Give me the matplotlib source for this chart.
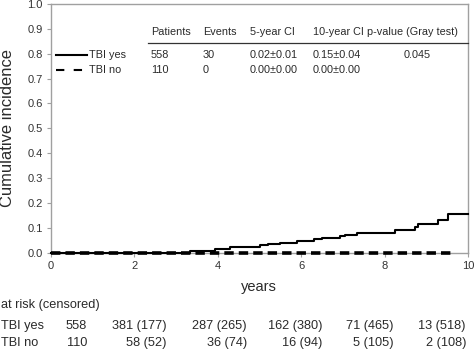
import matplotlib
matplotlib.use('Agg')
import matplotlib.pyplot as plt
from matplotlib.lines import Line2D

plt.rcParams['font.family'] = ['Liberation Sans', 'DejaVu Sans']

# 데이터
years_yes = [0, 3.33, 3.93, 4.3, 5.0, 5.2, 5.5, 5.9, 6.3, 6.5, 6.93, 7.05, 7.34, 8.25, 8.73, 8.8, 9.28, 9.52, 10.0]
ci_yes = [0, 0.007, 0.014, 0.023, 0.031, 0.034, 0.040, 0.047, 0.054, 0.060, 0.067, 0.071, 0.078, 0.091, 0.102, 0.115, 0.131, 0.154, 0.154]
years_no = [0, 9.6]
ci_no = [0, 0]

groups = ['TBI yes', 'TBI no']
patients = ['558', '110']
events = ['30', '0']
ci5 = ['0.02±0.01', '0.00±0.00']
ci10 = ['0.15±0.04', '0.00±0.00']
p_value = '0.045'
headers = ['Patients', 'Events', '5-year CI', '10-year CI', 'p-value (Gray test)']

at_risk_yes = ['558', '381 (177)', '287 (265)', '162 (380)', '71 (465)', '13 (518)']
at_risk_no = ['110', '58 (52)', '36 (74)', '16 (94)', '5 (105)', '2 (108)']

W, H = 474, 352
fig = plt.figure(figsize=(W / 100, H / 100), dpi=100)


def fx(x):
    return x / W


def fy(y):
    return 1 - y / H


ax = fig.add_axes([fx(51), fy(252.7), fx(468) - fx(51), fy(4) - fy(252.7)])
spine_col = '#a0a0a0'
txt_col = '#2a2a2a'
fs_tab = 7.8

ax.step(years_yes, ci_yes, where='post', color='black', lw=1.5, clip_on=False, zorder=3)
ax.plot(years_no, ci_no, color='black', lw=2.6, dashes=(2.6, 1.4), clip_on=False, zorder=4)

ax.set_xlim(0, 10)
ax.set_ylim(0, 1)
ax.set_xticks(range(0, 11, 2))
ax.set_yticks([i / 10 for i in range(11)])
ax.set_yticklabels(['%.1f' % (i / 10) for i in range(11)])
for s in ax.spines.values():
    s.set_color(spine_col)
    s.set_linewidth(1.0)
ax.tick_params(colors=spine_col, labelcolor='#333333', labelsize=8, length=3, width=0.8, pad=3)

# 축 라벨
fig.text(fx(8), fy(128), 'Cumulative incidence', rotation=90, ha='center', va='center',
         fontsize=11.9, color=txt_col)
fig.text(fx(259), fy(287), 'years', ha='center', va='center', fontsize=10.5, color=txt_col)

# 위쪽 표
col_x = [151, 203, 250, 313, 367]
for x, h in zip(col_x, headers):
    fig.text(fx(x), fy(32), h, ha='left', va='center', fontsize=fs_tab, color=txt_col)
fig.add_artist(Line2D([fx(148), fx(468)], [fy(43), fy(43)], color='#333333', lw=0.9))

row_y = [55, 70]
for i in range(2):
    y = row_y[i]
    if i == 0:
        fig.add_artist(Line2D([fx(56), fx(87)], [fy(y), fy(y)], color='black', lw=1.5))
    else:
        fig.add_artist(Line2D([fx(56), fx(87)], [fy(y), fy(y)], color='black', lw=1.5, dashes=(4, 4.5)))
    fig.text(fx(89), fy(y), groups[i], ha='left', va='center', fontsize=fs_tab, color=txt_col)
    fig.text(fx(col_x[0]), fy(y), patients[i], ha='left', va='center', fontsize=fs_tab, color=txt_col)
    fig.text(fx(col_x[1]), fy(y), events[i], ha='left', va='center', fontsize=fs_tab, color=txt_col)
    fig.text(fx(col_x[2]), fy(y), ci5[i], ha='left', va='center', fontsize=fs_tab, color=txt_col)
    fig.text(fx(col_x[3]), fy(y), ci10[i], ha='left', va='center', fontsize=fs_tab, color=txt_col)
fig.text(fx(417), fy(55), p_value, ha='center', va='center', fontsize=fs_tab, color=txt_col)

# at risk 표
fig.text(fx(1), fy(305), 'at risk (censored)', ha='left', va='center', fontsize=9.2, color=txt_col)
risk_x = [87, 167, 247, 322, 394, 466]
for y, name, vals in [(326, 'TBI yes', at_risk_yes), (343, 'TBI no', at_risk_no)]:
    fig.text(fx(1), fy(y), name, ha='left', va='center', fontsize=9.2, color=txt_col)
    for x, v in zip(risk_x, vals):
        fig.text(fx(x), fy(y), v, ha='right', va='center', fontsize=9.2, color=txt_col)

fig.savefig('out.png', dpi=100)
